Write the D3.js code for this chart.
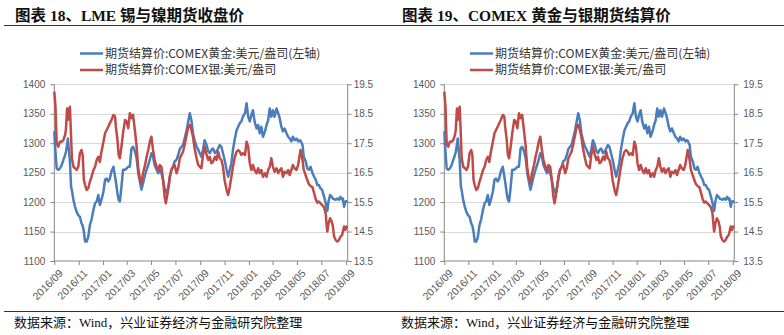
<!DOCTYPE html>
<html>
<head>
<meta charset="utf-8">
<script src="https://cdn.jsdelivr.net/npm/d3@7"></script>
<style>
  body { margin: 0; background: #fff; }
  svg { display: block; }
</style>
</head>
<body>
<svg id="chart" width="784" height="335"></svg>
<script>
// Settlement dates and prices: COMEX gold (USD/oz, left axis) and COMEX silver (USD/oz, right axis)
const tradeDates = [
  "2016-09-30","2016-10-03","2016-10-06","2016-10-10","2016-10-14","2016-10-18","2016-10-23","2016-10-27","2016-10-29",
  "2016-11-01","2016-11-03","2016-11-06","2016-11-08","2016-11-11","2016-11-13","2016-11-17","2016-11-21","2016-11-25","2016-11-29",
  "2016-12-03","2016-12-07","2016-12-10","2016-12-13","2016-12-16","2016-12-20","2016-12-24","2016-12-28",
  "2017-01-01","2017-01-06","2017-01-10","2017-01-14","2017-01-18","2017-01-22","2017-01-26","2017-01-31",
  "2017-02-04","2017-02-08","2017-02-12","2017-02-16","2017-02-20","2017-02-25",
  "2017-03-01","2017-03-03","2017-03-07","2017-03-10","2017-03-13","2017-03-17","2017-03-21","2017-03-26","2017-03-30",
  "2017-04-03","2017-04-07","2017-04-11","2017-04-15","2017-04-20","2017-04-24","2017-04-28",
  "2017-05-02","2017-05-06","2017-05-10","2017-05-15","2017-05-19","2017-05-23","2017-05-27","2017-05-31",
  "2017-06-04","2017-06-08","2017-06-13","2017-06-17","2017-06-21","2017-06-25","2017-06-29",
  "2017-07-03","2017-07-06","2017-07-09","2017-07-13","2017-07-16","2017-07-20","2017-07-24","2017-07-28",
  "2017-08-02","2017-08-06","2017-08-10","2017-08-14","2017-08-18","2017-08-22","2017-08-27","2017-08-31",
  "2017-09-04","2017-09-08","2017-09-12","2017-09-16","2017-09-21","2017-09-25","2017-09-29",
  "2017-10-03","2017-10-07","2017-10-11","2017-10-16","2017-10-20","2017-10-24","2017-10-28",
  "2017-11-01","2017-11-06","2017-11-10","2017-11-14","2017-11-18","2017-11-22","2017-11-26","2017-11-30",
  "2017-12-05","2017-12-09","2017-12-13","2017-12-17","2017-12-21","2017-12-25","2017-12-30",
  "2018-01-03","2018-01-07","2018-01-11","2018-01-15","2018-01-20","2018-01-24","2018-01-28",
  "2018-02-01","2018-02-05","2018-02-09","2018-02-13","2018-02-18","2018-02-22","2018-02-26",
  "2018-03-02","2018-03-06","2018-03-11","2018-03-15","2018-03-19","2018-03-23","2018-03-27","2018-03-31",
  "2018-04-04","2018-04-09","2018-04-13","2018-04-17","2018-04-21","2018-04-25","2018-04-29",
  "2018-05-04","2018-05-08","2018-05-12","2018-05-16","2018-05-20","2018-05-24","2018-05-29",
  "2018-06-02","2018-06-06","2018-06-08","2018-06-13","2018-06-16","2018-06-21","2018-06-25","2018-06-29",
  "2018-07-03","2018-07-08","2018-07-12","2018-07-16","2018-07-20","2018-07-24","2018-07-28",
  "2018-08-01","2018-08-06","2018-08-10","2018-08-13","2018-08-14","2018-08-17","2018-08-21","2018-08-25","2018-08-28","2018-08-31",
  "2018-09-04","2018-09-08","2018-09-12","2018-09-16","2018-09-20","2018-09-22","2018-09-25","2018-09-28",
  "2018-10-01","2018-10-03"
];

const goldSettle = [
  1320,1285,1257,1255,1257,1262,1272,1280,1285,
  1298,1308,1285,1270,1226,1220,1203,1192,1183,1178,
  1175,1164,1160,1150,1133,1133,1141,1161,
  1170,1187,1198,1201,1212,1195,1204,1218,
  1238,1240,1235,1240,1252,1260,
  1243,1235,1215,1204,1201,1226,1255,1255,1257,
  1260,1260,1291,1294,1286,1274,1249,
  1235,1221,1232,1246,1255,1263,1272,1283,
  1277,1263,1255,1249,1255,1249,1238,
  1223,1218,1215,1229,1243,1255,1260,1269,
  1272,1280,1290,1294,1297,1308,1322,1337,
  1351,1339,1317,1305,1294,1289,1283,
  1277,1289,1305,1297,1286,1283,1289,
  1291,1283,1286,1291,1297,1294,1283,1272,
  1255,1243,1255,1266,1289,1305,1322,
  1328,1334,1337,1345,1351,1368,1345,
  1337,1348,1356,1337,1325,1331,1317,
  1328,1311,1320,1331,1339,1359,1345,1356,
  1345,1359,1351,1342,1328,1320,1325,
  1317,1311,1308,1303,1311,1305,1308,
  1303,1305,1304,1297,1277,1269,1257,1255,
  1260,1249,1243,1238,1229,1229,1223,
  1221,1209,1198,1187,1185,1201,1212,1209,1206,1205,
  1204,1206,1204,1209,1204,1206,1192,1201,
  1201,1203
];

const silverSettle = [
  19.25,18.74,17.50,17.38,17.55,17.55,17.61,17.78,17.95,
  18.68,18.29,18.63,18.74,17.72,16.99,16.70,16.65,16.59,16.70,
  17.16,17.27,17.10,16.25,16.08,15.91,15.97,16.19,
  16.36,16.59,16.70,16.93,17.04,16.87,17.21,17.55,
  17.84,17.95,18.06,18.18,18.29,18.46,
  18.40,18.06,17.61,17.10,16.99,17.38,17.84,18.29,18.23,
  18.01,18.52,18.35,18.46,17.89,17.38,16.65,
  16.31,16.14,16.48,16.76,17.04,17.27,17.55,17.72,
  17.27,16.93,16.70,16.59,16.76,16.70,16.25,
  15.69,15.46,15.69,16.02,16.36,16.59,16.70,16.76,
  16.48,16.65,16.99,17.10,17.21,17.44,17.78,18.06,
  18.12,17.95,17.72,17.33,16.99,16.76,16.70,
  16.65,17.10,17.38,17.10,16.93,17.04,16.82,
  16.87,17.04,16.93,17.21,16.99,16.93,16.70,16.25,
  15.91,15.74,16.02,16.36,16.70,16.99,17.21,
  17.27,17.21,17.10,17.16,17.10,17.55,17.38,
  16.82,16.59,16.76,16.59,16.48,16.65,16.48,
  16.59,16.36,16.48,16.36,16.59,16.70,16.99,16.70,
  16.53,16.65,16.48,16.59,16.65,16.36,16.53,
  16.48,16.59,16.42,16.59,16.76,16.65,16.59,
  16.76,17.10,17.27,16.93,16.60,16.40,16.25,16.10,
  16.05,16.00,15.80,15.60,15.48,15.52,15.46,
  15.40,15.32,15.10,14.60,14.50,14.78,14.95,14.84,14.67,14.33,
  14.21,14.16,14.21,14.33,14.38,14.50,14.67,14.55,
  14.67,14.62
];

const dateDomain = ["2016-09-30", "2018-10-04"];
const goldTicks = [1100, 1150, 1200, 1250, 1300, 1350, 1400];
const silverTicks = [13.5, 14.5, 15.5, 16.5, 17.5, 18.5, 19.5];
const monthTicks = ["2016-09-30","2016-11-30","2017-01-30","2017-03-30","2017-05-30","2017-07-30","2017-09-30",
                    "2017-11-30","2018-01-30","2018-03-30","2018-05-30","2018-07-30","2018-09-30"];
const monthLabels = ["2016/09","2016/11","2017/01","2017/03","2017/05","2017/07","2017/09",
                     "2017/11","2018/01","2018/03","2018/05","2018/07","2018/09"];

const panelTitles = ["图表 18、LME 锡与镍期货收盘价", "图表 19、COMEX 黄金与银期货结算价"];
const seriesNames = ["期货结算价:COMEX黄金:美元/盎司(左轴)", "期货结算价:COMEX银:美元/盎司"];
const seriesColors = ["#4A7EBB", "#BE4B48"];
const sourceNote = "数据来源：Wind，兴业证券经济与金融研究院整理";

const parse = d3.timeParse("%Y-%m-%d");
const rows = tradeDates.map((d, i) => ({ date: parse(d), gold: goldSettle[i], silver: silverSettle[i] }));

const svg = d3.select("#chart");

const panels = [
  { plotL: 54.3,  plotR: 347.7, titleX: 15,  legendX: 80,  rightGap: 6, ruleL: 4,   ruleR: 392 },
  { plotL: 444.3, plotR: 734.3, titleX: 402, legendX: 470, rightGap: 9, ruleL: 392, ruleR: 784 }
];
const plotTop = 84.3, plotBottom = 261;

const axisFont = "'Liberation Sans', Arial, sans-serif";
const cjkSans = "'Noto Sans CJK SC', sans-serif";
const titleFont = "'Liberation Serif', 'Noto Sans CJK SC', serif";

panels.forEach((p, pi) => {
  const g = svg.append("g");

  // title and rule below it
  g.append("text")
    .attr("x", p.titleX).attr("y", 21)
    .attr("font-family", titleFont).attr("font-weight", 700)
    .attr("font-size", 15.5).attr("fill", "#111")
    .text(panelTitles[pi]);
  g.append("line")
    .attr("x1", p.ruleL).attr("x2", p.ruleR).attr("y1", 25.5).attr("y2", 25.5)
    .attr("stroke", "#333").attr("stroke-width", 1);

  // source note and rule above it
  g.append("line")
    .attr("x1", p.ruleL).attr("x2", p.ruleR).attr("y1", 311.5).attr("y2", 311.5)
    .attr("stroke", "#333").attr("stroke-width", 1);
  g.append("text")
    .attr("x", p.titleX - 1).attr("y", 327)
    .attr("font-family", "'Liberation Serif', 'Noto Sans CJK SC', serif")
    .attr("font-size", 13).attr("fill", "#111")
    .text(sourceNote);

  // scales
  const x = d3.scaleTime().domain(dateDomain.map(parse)).range([p.plotL, p.plotR]);
  const yGold = d3.scaleLinear().domain([1100, 1400]).range([plotBottom, plotTop]);
  const ySilver = d3.scaleLinear().domain([13.5, 19.5]).range([plotBottom, plotTop]);

  // gridlines
  g.append("g").selectAll("line")
    .data(goldTicks.filter(t => t > 1100))
    .join("line")
    .attr("x1", p.plotL).attr("x2", p.plotR)
    .attr("y1", d => Math.round(yGold(d)) + 0.5).attr("y2", d => Math.round(yGold(d)) + 0.5)
    .attr("stroke", "#D9D9D9").attr("stroke-width", 1);

  // left axis
  const leftAxis = g.append("g")
    .attr("transform", `translate(${p.plotL},0)`)
    .call(d3.axisLeft(yGold).tickValues(goldTicks).tickSize(4).tickPadding(5).tickFormat(d3.format("d")));
  // right axis
  const rightAxis = g.append("g")
    .attr("transform", `translate(${p.plotR},0)`)
    .call(d3.axisRight(ySilver).tickValues(silverTicks).tickSize(4).tickPadding(p.rightGap - 4).tickFormat(d3.format(".1f")));
  // bottom axis
  const bottomAxis = g.append("g")
    .attr("transform", `translate(0,${plotBottom})`)
    .call(d3.axisBottom(x).tickValues(monthTicks.map(parse)).tickSize(4)
      .tickFormat((d, i) => monthLabels[i]));

  [leftAxis, rightAxis, bottomAxis].forEach(a => {
    a.select(".domain").attr("stroke", "#868686").attr("stroke-width", 1);
    a.selectAll(".tick line").attr("stroke", "#868686");
    a.selectAll("text").attr("font-family", axisFont).attr("font-size", 10).attr("fill", "#595959");
  });
  bottomAxis.select(".domain").attr("d", `M${p.plotL},0H${p.plotR}`);
  leftAxis.select(".domain").attr("d", `M0,${plotTop}V${plotBottom}`);
  rightAxis.select(".domain").attr("d", `M0,${plotTop}V${plotBottom}`);
  bottomAxis.selectAll(".tick text")
    .attr("font-size", 10.5)
    .attr("text-anchor", "end")
    .attr("dx", 0).attr("dy", 0)
    .attr("transform", "translate(4,8) rotate(-45)");

  // series lines
  const goldLine = d3.line().x(d => x(d.date)).y(d => yGold(d.gold));
  const silverLine = d3.line().x(d => x(d.date)).y(d => ySilver(d.silver));
  g.append("path").datum(rows)
    .attr("d", goldLine).attr("fill", "none")
    .attr("stroke", seriesColors[0]).attr("stroke-width", 2.5)
    .attr("stroke-linejoin", "round");
  g.append("path").datum(rows)
    .attr("d", silverLine).attr("fill", "none")
    .attr("stroke", seriesColors[1]).attr("stroke-width", 2.5)
    .attr("stroke-linejoin", "round");

  // legend
  const legendYs = [53.5, 70];
  seriesNames.forEach((name, si) => {
    g.append("line")
      .attr("x1", p.legendX).attr("x2", p.legendX + 23)
      .attr("y1", legendYs[si]).attr("y2", legendYs[si])
      .attr("stroke", seriesColors[si]).attr("stroke-width", 2.5);
    g.append("text")
      .attr("x", p.legendX + 25).attr("y", legendYs[si] + 4)
      .attr("font-family", cjkSans).attr("font-size", 12).attr("fill", "#333")
      .text(name);
  });
});
</script>
</body>
</html>
